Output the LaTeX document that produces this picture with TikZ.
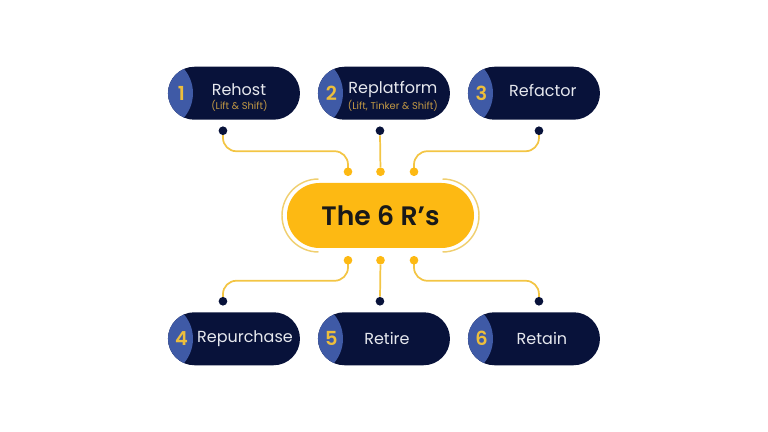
\documentclass[tikz,border=0pt]{standalone}
\usepackage{fontspec}
\setmainfont{Poppins}[BoldFont={Poppins SemiBold}]
\usepackage{xcolor}
\usetikzlibrary{arrows.meta, positioning, calc, shapes.misc, backgrounds}
\definecolor{navy}{HTML}{08123A}
\definecolor{capblue}{HTML}{3F5AA6}
\definecolor{hubyellow}{HTML}{FDB913}
\definecolor{numyellow}{HTML}{EDBE3C}
\definecolor{linkyellow}{HTML}{F3C544}
\definecolor{haloyellow}{HTML}{F0CF70}
\definecolor{subtan}{HTML}{C49A45}
\definecolor{pilltext}{HTML}{E6E8EE}

\begin{document}
\begin{tikzpicture}[
                x=0.75pt, y=0.75pt,
                pill/.style={rounded rectangle, fill=navy, minimum width=99pt, minimum height=39.75pt, inner sep=0pt, outer sep=0pt,
                    path picture={\fill[capblue] ($(path picture bounding box.west)+(-12.4,0)$) circle[radius=37.4];}},
                hub/.style={rounded rectangle, fill=hubyellow, minimum width=140.25pt, minimum height=48.75pt, inner sep=0pt, font=\fontsize{20}{22}\selectfont\bfseries, text=black!90},
                halo/.style={haloyellow, line width=1.1pt},
                num/.style={text=numyellow, font=\fontsize{14.5}{16}\selectfont\bfseries, inner sep=0pt},
                title/.style={text=pilltext, font=\fontsize{12}{14}\selectfont, inner sep=0pt},
                subtitle/.style={text=subtan, font=\fontsize{7.4}{8}\selectfont, inner sep=0pt},
                ydot/.style={circle, fill=hubyellow, minimum size=6.5pt, inner sep=0pt},
                ndot/.style={circle, fill=navy, minimum size=6.5pt, inner sep=0pt},
                link/.style={linkyellow, line width=1.3pt, rounded corners=10pt},
            ]
                \useasboundingbox (0,0) rectangle (768,432);

                % Hub
                \node[hub] (hub) at (380.5,216.5) {The 6 R’s};
                \draw[halo] ($(hub.center)+(-62,36.5)$) arc[start angle=90, end angle=270, radius=36.5];
                \draw[halo] ($(hub.center)+(62,36.5)$) arc[start angle=90, end angle=-90, radius=36.5];

                % Pills
                \node[pill, above=47.25pt of hub, xshift=2.6pt] (r2) {};
                \node[pill, left=13.5pt of r2] (r1) {};
                \node[pill, right=13.5pt of r2] (r3) {};
                \node[pill, below=48pt of hub, xshift=2.6pt] (r5) {};
                \node[pill, left=13.5pt of r5] (r4) {};
                \node[pill, right=13.5pt of r5] (r6) {};

                % Numbers
                \foreach \n in {1,...,6}
                    \node[num] (n\n) at ($(r\n.west)+(13.5,0)$) {\n};

                % Labels
                \node[title] (t1) at ($(r1.center)+(5,4)$) {Rehost};
                \node[subtitle] (s1) at ($(r1.center)+(5.5,-12.5)$) {(Lift \& Shift)};
                \node[title] (t2) at ($(r2.center)+(9,4)$) {Replatform};
                \node[subtitle] (s2) at ($(r2.center)+(9,-12.5)$) {(Lift, Tinker \& Shift)};
                \node[title] (t3) at ($(r3.center)+(9,2.5)$) {Refactor};
                \node[title] (t4) at ($(r4.center)+(11,0)$) {Repurchase};
                \node[title] (t5) at ($(r5.center)+(3,0)$) {Retire};
                \node[title] (t6) at ($(r6.center)+(8,0)$) {Retain};

                % Dots
                \node[ndot] (d1) at ($(r1.south)+(-11,-11)$) {};
                \node[ndot] (d2) at ($(r2.south)+(-4,-11)$) {};
                \node[ndot] (d3) at ($(r3.south)+(5,-11)$) {};
                \node[ndot] (d4) at ($(r4.north)+(-11,11)$) {};
                \node[ndot] (d5) at ($(r5.north)+(-4,11)$) {};
                \node[ndot] (d6) at ($(r6.north)+(5,11)$) {};
                \node[ydot] (y1) at ($(hub.north)+(-32.5,11)$) {};
                \node[ydot] (y2) at ($(hub.north)+(0,11)$) {};
                \node[ydot] (y3) at ($(hub.north)+(33.5,11)$) {};
                \node[ydot] (y4) at ($(hub.south)+(-32.5,-12)$) {};
                \node[ydot] (y5) at ($(hub.south)+(0,-12)$) {};
                \node[ydot] (y6) at ($(hub.south)+(33.5,-12)$) {};

                % Connect dots
                \begin{scope}[on background layer]
                    \foreach \a/\b in {d1/y1, d3/y3, d4/y4, d6/y6}
                        \draw[link] (\a.center) |- ($(\a)!.5!(\b)$) -| (\b.center);
                    \foreach \a/\b in {d2/y2, d5/y5}
                        \draw[link] (\a) -- (\b);
                \end{scope}
            \end{tikzpicture}
\end{document}
